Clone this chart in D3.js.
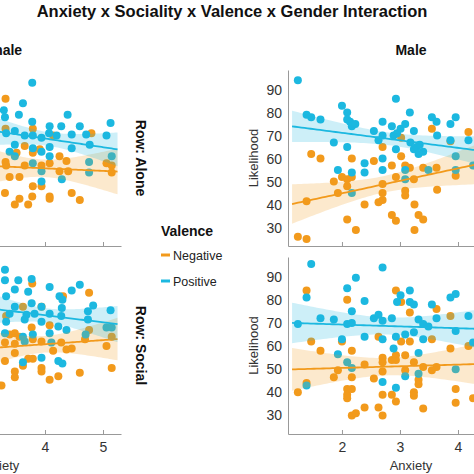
<!DOCTYPE html>
<html><head><meta charset="utf-8">
<script src="https://cdn.jsdelivr.net/npm/d3@7"></script>
<style>body{margin:0;background:#fff}svg{font-family:Arial,"Liberation Sans",sans-serif}</style>
</head><body><svg id="c" width="474" height="474"></svg>
<script>
// [anxiety, likelihood]
const femaleAloneNeg=[[3.32,86],[3.32,73],[3.79,73],[4.14,70],[4.80,71],[3.51,62.5],[3.65,65.5],[3.79,62.5],[3.91,64],[4.25,61],[4.37,59],[5.06,58],[5.15,57],[3.32,58.5],[3.39,52],[3.56,52],[3.33,57],[3.65,57],[3.94,57],[4.08,58],[4.25,54.5],[4.40,54.5],[5.15,54],[3.31,45],[3.79,48],[3.94,48],[4.08,43.5],[4.46,45],[3.48,40],[3.71,40],[3.56,42.5],[3.78,43.5],[4.60,42],[4.08,42.5]];
const femaleAlonePos=[[3.78,93],[3.62,84],[3.29,81],[3.31,78],[3.55,79],[4.39,79],[3.78,76],[4.08,74],[4.28,74],[4.60,74],[5.13,75.5],[3.33,71],[3.48,72],[3.65,70],[3.79,70],[3.94,69],[4.07,71],[4.20,70],[4.46,70.5],[4.71,70.5],[5.06,70],[3.48,66],[3.79,64.5],[4.08,65],[4.46,64.5],[4.77,66],[3.39,63],[3.94,63],[4.08,61],[5.15,61],[3.48,61],[4.76,58.5],[3.94,54.5],[3.94,50],[4.29,51],[4.76,54],[3.79,58]];
const femaleSocialNeg=[[3.78,87],[4.76,83],[3.62,77],[3.94,77],[4.31,81.5],[3.33,73],[4.08,69],[3.77,68],[4.76,67],[3.39,65],[3.56,64],[3.48,65.5],[3.79,63],[3.94,62],[4.28,61.5],[4.37,58.5],[4.46,59],[4.14,58],[4.69,63],[5.06,60],[5.15,64],[3.31,61.5],[3.48,61],[3.31,53.5],[3.48,57],[3.79,54.5],[3.94,50.5],[3.94,49],[3.71,54.5],[3.48,49],[3.48,46.5],[4.08,45.5],[4.23,47],[4.60,48.5],[5.15,50.5],[3.25,43],[3.62,51.5]];
const femaleSocialPos=[[3.31,93],[3.31,88.5],[3.54,88.5],[3.77,89],[4.08,85.5],[4.46,84],[4.60,86.5],[3.33,81.5],[3.48,84.5],[3.71,83.5],[4.25,81.5],[4.30,80],[3.48,77],[3.77,78.5],[3.94,77],[4.29,76.5],[4.83,77.5],[3.39,74],[3.68,73.5],[3.82,74],[4.08,74],[4.28,73],[4.74,75],[5.13,75.5],[3.33,70.5],[3.65,71.5],[3.94,70.5],[4.23,68.5],[4.37,67],[4.74,71.5],[5.06,68],[5.15,68],[3.31,65.5],[3.62,64],[3.79,65],[4.08,65.5],[3.65,62],[4.11,61.5],[4.70,65],[3.94,55],[3.62,53],[4.23,53.5],[4.30,52.5]];
const maleAloneNeg=[[1.24,26],[1.39,25],[1.39,41.5],[1.47,62],[1.63,60],[1.86,50],[1.93,45],[2.0,52],[2.09,51],[2.09,48],[2.09,33.5],[2.17,60],[2.17,52],[2.24,29],[2.39,40],[2.55,59],[2.63,41],[2.70,65],[2.70,49],[2.70,45],[2.70,42],[2.86,57],[2.86,35.5],[2.93,33],[2.93,52],[3.02,61],[3.02,69],[3.09,57],[3.09,46],[3.09,44],[3.17,56],[3.24,51],[3.25,40],[3.25,29],[3.32,35.5],[3.40,33.5],[3.40,56],[3.55,73],[3.63,56],[3.64,46.5],[3.87,67.5],[3.96,52.5],[4.18,71.5]];
const maleAlonePos=[[1.24,94],[1.39,79],[1.47,78],[1.63,77],[1.86,67],[1.93,55],[2.0,83],[2.09,80],[2.09,77],[2.14,76],[2.17,74],[2.23,75],[2.09,65],[2.17,54],[2.17,45],[2.39,58],[2.39,54],[2.55,72],[2.63,68],[2.70,76],[2.70,70],[2.70,60],[2.70,55],[2.86,74],[2.89,70],[2.93,86],[2.95,71],[2.93,64],[3.01,73],[3.09,75],[3.09,55],[3.09,51],[3.17,80],[3.24,72],[3.18,67],[3.24,64],[3.29,65],[3.34,66],[3.40,63],[3.32,62],[3.49,55],[3.55,78],[3.63,76],[3.64,70],[3.87,75],[3.87,68],[3.96,78],[3.96,61],[3.96,55],[4.18,68],[4.26,57]];
const maleSocialNeg=[[1.24,40],[1.39,84],[1.39,44],[1.47,62],[1.63,58],[1.86,46.5],[1.93,49.5],[2.0,62],[2.09,80],[2.09,41.5],[2.09,39],[2.09,37.5],[2.17,58],[2.17,41.5],[2.17,46.5],[2.17,30],[2.24,31],[2.39,52],[2.39,33.5],[2.55,46],[2.63,33.5],[2.63,64],[2.70,55],[2.70,53],[2.70,49],[2.70,39],[2.70,30],[2.86,54],[2.86,39],[2.93,84],[2.93,56],[2.93,54],[2.93,36],[3.02,79],[3.02,62],[3.09,56],[3.09,49.5],[3.17,74.5],[3.17,62],[3.24,53],[3.24,40],[3.24,38.5],[3.32,45.5],[3.32,43.5],[3.40,33],[3.40,51],[3.55,63],[3.55,49.5],[3.63,51],[3.63,76],[3.87,73],[3.87,59],[3.96,41.5],[3.96,35.5],[4.18,60],[4.26,37.5]];
const maleSocialPos=[[1.24,69.5],[1.39,81],[1.39,43],[1.47,95.5],[1.63,72],[1.86,71.5],[1.93,56.5],[2.0,63],[2.09,85],[2.09,69.5],[2.09,53],[2.17,75],[2.17,70],[2.17,50.5],[2.24,89.5],[2.39,79.5],[2.39,64],[2.55,72],[2.63,73.5],[2.70,94],[2.70,71],[2.70,63],[2.70,44.5],[2.86,72],[2.89,59],[2.95,79],[2.93,64],[2.93,42],[3.01,82],[3.09,65],[3.09,47],[3.17,84],[3.17,79],[3.24,78],[3.24,66],[3.32,71.5],[3.32,57],[3.32,48],[3.40,69.5],[3.40,63],[3.49,68.5],[3.55,78],[3.63,72],[3.87,81],[3.96,82.5],[3.96,66.5],[3.96,50],[4.18,73],[4.26,61.5]];
const xTicks=[2,3,4,5];
const yTicks=[30,40,50,60,70,80,90];
const colNeg="#f29a1c", colPos="#1cb8e0";

const svg=d3.select("#c");
const W=246;
const cols=[{x0:-125,label:"Female"},{x0:288,label:"Male"}];
const rows=[{y0:70,y1:246,label:"Row: Alone"},{y0:257,y1:434,label:"Row: Social"}];
const panels=[
 [0,0,femaleAloneNeg,femaleAlonePos],[1,0,maleAloneNeg,maleAlonePos],
 [0,1,femaleSocialNeg,femaleSocialPos],[1,1,maleSocialNeg,maleSocialPos]];

function fit(d){
 const n=d.length,mx=d3.mean(d,p=>p[0]),my=d3.mean(d,p=>p[1]);
 const sxx=d3.sum(d,p=>(p[0]-mx)**2),sxy=d3.sum(d,p=>(p[0]-mx)*(p[1]-my));
 const b=sxy/sxx,a=my-b*mx;
 const s=Math.sqrt(d3.sum(d,p=>(p[1]-a-b*p[0])**2)/(n-2));
 return {a,b,se:x=>1.98*s*Math.sqrt(1/n+(x-mx)**2/sxx),ext:d3.extent(d,p=>p[0])};
}

svg.append("text").attr("x",232).attr("y",17).attr("text-anchor","middle")
 .attr("font-weight","bold").attr("font-size",16.5).attr("fill","#111")
 .text("Anxiety x Sociality x Valence x Gender Interaction");

panels.forEach(([ci,ri,neg,pos])=>{
 const c=cols[ci],r=rows[ri];
 const x=d3.scaleLinear().domain([1.07,5.31]).range([c.x0,c.x0+W]);
 const y=d3.scaleLinear().domain([22,98.5]).range([r.y1,r.y0]);
 const g=svg.append("g");
 const xa=g.append("g").attr("transform",`translate(0,${r.y1})`)
   .call(d3.axisBottom(x).tickValues(xTicks).tickSize(-4).tickSizeOuter(0).tickPadding(8).tickFormat(ri?d3.format("d"):()=>""));
 const ya=g.append("g").attr("transform",`translate(${c.x0},0)`)
   .call(d3.axisLeft(y).tickValues(yTicks).tickSize(0).tickPadding(6));
 [xa,ya].forEach(a=>{a.select(".domain").attr("stroke","#999");a.selectAll("line").attr("stroke","#999");
   a.selectAll("text").attr("font-size",14).attr("fill","#333");});
 g.append("text").attr("transform",`translate(${c.x0-30},${(r.y0+r.y1)/2}) rotate(-90)`)
  .attr("text-anchor","middle").attr("font-size",13).attr("fill","#333").text("Likelihood");
 if(ri) g.append("text").attr("x",c.x0+W/2).attr("y",470).attr("text-anchor","middle")
  .attr("font-size",13).attr("fill","#333").text("Anxiety");
 [[neg,colNeg],[pos,colPos]].forEach(([d,col])=>{
  g.selectAll(null).data(d).join("circle").attr("cx",p=>x(p[0])).attr("cy",p=>y(p[1]))
   .attr("r",4).attr("fill",col);
 });
 [[neg,colNeg],[pos,colPos]].forEach(([d,col])=>{
  const f=fit(d);const xs=d3.range(61).map(i=>f.ext[0]-0.1+(f.ext[1]-f.ext[0]+0.2)*i/60);
  g.append("path").attr("d",d3.area().x(v=>x(v)).y0(v=>y(f.a+f.b*v-f.se(v))).y1(v=>y(f.a+f.b*v+f.se(v)))(xs))
   .attr("fill",col).attr("opacity",0.22);
  g.append("path").attr("d",d3.line().x(v=>x(v)).y(v=>y(f.a+f.b*v))(xs))
   .attr("stroke",col).attr("stroke-width",1.8).attr("fill","none");
 });
});
cols.forEach(c=>svg.append("text").attr("x",c.x0+W/2).attr("y",55).attr("text-anchor","middle")
 .attr("font-weight","bold").attr("font-size",14).attr("fill","#111").text(c.label));
rows.forEach(r=>svg.append("text").attr("transform",`translate(136,${(r.y0+r.y1)/2}) rotate(90)`)
 .attr("text-anchor","middle").attr("font-weight","bold").attr("font-size",14).attr("fill","#111").text(r.label));
svg.append("text").attr("x",161).attr("y",236).attr("font-weight","bold").attr("font-size",14).attr("fill","#111").text("Valence");
[["Negative",colNeg],["Positive",colPos]].forEach(([t,col],i)=>{
 svg.append("line").attr("x1",161).attr("x2",170).attr("y1",255+i*26).attr("y2",255+i*26).attr("stroke",col).attr("stroke-width",3);
 svg.append("text").attr("x",173).attr("y",260+i*26).attr("font-size",12.5).attr("fill","#222").text(t);
});
</script></body></html>
